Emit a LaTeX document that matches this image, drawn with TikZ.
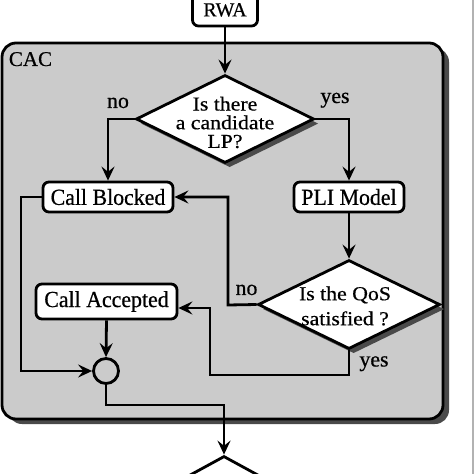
\documentclass[tikz,border=0pt]{standalone}
\usepackage{fontspec}
\setmainfont{Liberation Serif}[FakeStretch=1.1,FakeBold=0.6]
\newfontfamily\boxfont{Liberation Serif}[FakeStretch=0.95,FakeBold=0.6]
\newfontfamily\plainfont{Liberation Serif}[FakeBold=0.6]
\usetikzlibrary{shapes.geometric,arrows.meta,shadows}
\definecolor{cacgray}{HTML}{CBCBCB}
\definecolor{shgray}{HTML}{4A4A4A}
\begin{document}
\begin{tikzpicture}[x=0.5pt,y=-0.5pt,
  every node/.style={font=\plainfont\fontsize{10.9}{12}\selectfont},
  lw/.style={line width=1.4pt},
  arr/.style={lw,-{Stealth[length=7pt,width=6.5pt,inset=2.6pt]}},
  box/.style={draw,lw,fill=white,rounded corners=3pt,inner sep=0pt,font=\boxfont\fontsize{11.5}{12}\selectfont},
  dia/.style={diamond,draw,lw,fill=white,inner sep=0pt},
  dtext/.style={align=center,inner sep=0pt,font=\rmfamily\fontsize{9.9}{#1}\selectfont},
  dshadow/.style={drop shadow={shadow xshift=2.3pt,shadow yshift=-2.3pt,fill=shgray,opacity=1}},
  lbl/.style={anchor=base,inner sep=0pt}]
\clip (0,0) rectangle (474,474);
\fill[white] (0,0) rectangle (474,474);
\draw[gray!60, line width=0.8pt] (473,0) -- (473,474);
% CAC container
\node[lw, draw, fill=cacgray, rounded corners=7pt, minimum width=220.5pt, minimum height=188pt, inner sep=0pt,
  drop shadow={shadow xshift=3pt,shadow yshift=-2.5pt,fill=shgray,opacity=1}] (cac) at (222.5,231) {};
\node[lbl, font=\plainfont\fontsize{10.5}{12}\selectfont] (cactxt) at (30.5,66) {CAC};
% boxes
\node[box, minimum width=32.5pt, minimum height=16pt, font=\plainfont\fontsize{10}{12}\selectfont] (rwa) at (225,10) {RWA};
\node[box, minimum width=65pt, minimum height=15pt] (cb) at (108,197) {Call Blocked};
\node[box, minimum width=55pt, minimum height=15pt] (pli) at (349,197) {PLI Model};
\node[box, minimum width=70.5pt, minimum height=17.5pt] (ca) at (106.5,301.5) {Call Accepted};
\node[circle, draw, lw, fill=cacgray, minimum size=12.5pt, inner sep=0pt] (c) at (106,371) {};
% diamonds
\node[dia, dshadow, minimum width=89pt, minimum height=44pt] (d1) at (225,119) {};
\node[dtext=9.35pt] (t1) at (225,122.5) {Is there\\a candidate\\LP?};
\node[dia, dshadow, minimum width=91pt, minimum height=44.5pt] (d2) at (349,304.5) {};
\node[dtext=12.5pt] (t2) at (345,306) {Is the QoS\\satisfied ?};
\node[dia, minimum width=82pt, minimum height=45pt] (d3) at (224,501) {};
% labels
\node[lbl] (no1) at (118,108) {no};
\node[lbl] (yes1) at (335,103) {yes};
\node[lbl] (no2) at (246.5,295) {no};
\node[lbl] (yes2) at (374,366.5) {yes};
% coordinates
\coordinate (k1) at (228,305);
\coordinate (k2) at (349,375);
\coordinate (k3) at (210,308);
\coordinate (k5) at (21,197);
\coordinate (k6) at (224,405);
% connectors
\draw[arr] (rwa.south) -- (d1.north);
\draw[arr] (d1.west) -| (cb.north);
\draw[arr] (d1.east) -| (pli.north);
\draw[arr] (pli.south) -- (d2.north);
\draw[arr] (d2.west) -- (k1) |- (cb.east);
\draw[arr] (d2.south) -- (k2) -| (k3) -- (k3 -| ca.east);
\draw[arr] (ca.south) -- (c.north);
\draw[arr] (cb.west) -- (k5) |- (c.west);
\draw[arr] (c.south) |- (k6) -- (d3.north);
\end{tikzpicture}
\end{document}
